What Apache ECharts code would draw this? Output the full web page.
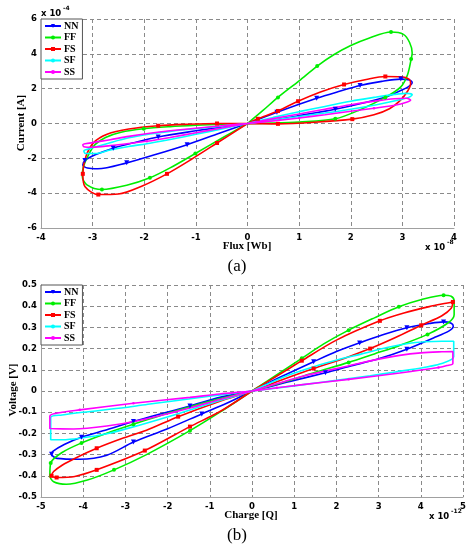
<!DOCTYPE html>
<html>
<head>
<meta charset="utf-8">
<script src="https://cdn.jsdelivr.net/npm/echarts@6/dist/echarts.min.js"></script>
<style>
html,body{margin:0;padding:0;background:#fff;}
#chart{width:474px;height:550px;}
</style>
</head>
<body>
<div id="chart"></div>
<script>
// ---------- Data ----------
const seriesNames = ['NN', 'FF', 'FS', 'SF', 'SS'];

// Tick values
const fluxTicks = [-4, -3, -2, -1, 0, 1, 2, 3, 4];          // x 1e-8 Wb
const currentTicks = [-6, -4, -2, 0, 2, 4, 6];              // x 1e-4 A
const chargeTicks = [-5, -4, -3, -2, -1, 0, 1, 2, 3, 4, 5]; // x 1e-12 Q
const voltageTicks = [-0.5, -0.4, -0.3, -0.2, -0.1, 0, 0.1, 0.2, 0.3, 0.4, 0.5];

// (a) Flux [1e-8 Wb] vs Current [1e-4 A]
const nnFluxCurrent = [[0,0],[0.57,0.65],[1.34,1.45],[1.75,1.82],[2.18,2.18],[2.6,2.42],[2.97,2.55],[3.14,2.5],[3.19,2.35],[3.12,2.12],[2.95,1.87],[2.71,1.55],[2.2,1.15],[1.7,0.82],[1.0,0.45],[0.5,0.2],[0,0],[-0.5,-0.2],[-1.0,-0.42],[-1.73,-0.77],[-2.2,-1.1],[-2.6,-1.42],[-2.95,-1.8],[-3.15,-2.13],[-3.19,-2.38],[-3.1,-2.56],[-2.9,-2.6],[-2.34,-2.26],[-1.8,-1.8],[-1.17,-1.22],[-0.6,-0.62],[0,0]];
const nnMarksA = [1,2,4,6,13,19,21,23,27,29];

const ffFluxCurrent = [[0,0],[0.3,0.75],[0.59,1.5],[1.0,2.45],[1.35,3.3],[1.67,3.95],[2.0,4.48],[2.35,4.9],[2.78,5.25],[3.02,5.12],[3.14,4.65],[3.19,4.05],[3.17,3.7],[3.1,2.8],[2.97,2.1],[2.67,1.5],[2.15,0.75],[1.7,0.27],[1.0,0.08],[0.5,0.02],[0,0],[-0.5,-0.04],[-1.0,-0.1],[-1.5,-0.18],[-2.01,-0.3],[-2.45,-0.5],[-2.75,-0.8],[-2.95,-1.2],[-3.08,-1.8],[-3.18,-2.5],[-3.2,-3.05],[-3.11,-3.52],[-2.82,-3.79],[-2.34,-3.55],[-1.89,-3.12],[-1.5,-2.55],[-1.01,-1.72],[-0.5,-0.85],[0,0]];
const ffMarksA = [2,4,8,12,15,17,24,32,34,36];

const fsFluxCurrent = [[0,0],[0.2,0.27],[0.59,0.72],[0.98,1.28],[1.4,1.8],[1.87,2.24],[2.3,2.53],[2.67,2.7],[2.97,2.68],[3.13,2.55],[3.16,2.3],[3.1,1.85],[2.95,1.3],[2.75,0.85],[2.45,0.5],[2.03,0.25],[1.3,0.07],[0.59,-0.02],[0,0],[-0.59,0.0],[-1.2,-0.05],[-1.73,-0.13],[-2.3,-0.32],[-2.72,-0.62],[-2.98,-1.1],[-3.13,-1.9],[-3.19,-2.89],[-3.15,-3.62],[-2.89,-4.08],[-2.5,-4.05],[-2.05,-3.6],[-1.56,-2.89],[-1.1,-2.08],[-0.59,-1.12],[0,0]];
const fsMarksA = [1,2,3,5,7,15,17,19,21,26,28,31,33];

const sfFluxCurrent = [[0,0],[0.5,0.35],[1.0,0.68],[1.5,0.98],[2.0,1.28],[2.5,1.52],[2.85,1.67],[3.08,1.73],[3.19,1.66],[3.12,1.5],[2.95,1.36],[2.5,1.08],[2.0,0.82],[1.5,0.6],[1.0,0.4],[0.5,0.2],[0,0],[-0.5,-0.15],[-1.0,-0.3],[-1.5,-0.45],[-1.89,-0.6],[-2.3,-0.82],[-2.66,-1.1],[-2.98,-1.38],[-3.17,-1.58],[-3.14,-1.72],[-2.95,-1.72],[-2.66,-1.52],[-2.3,-1.32],[-1.89,-1.13],[-1.4,-0.86],[-1.0,-0.62],[-0.5,-0.31],[0,0]];
const sfMarksA = [];

const ssFluxCurrent = [[0,0],[0.5,0.28],[1.0,0.55],[1.5,0.82],[2.0,1.08],[2.5,1.3],[2.85,1.42],[3.08,1.45],[3.16,1.35],[3.08,1.22],[2.85,1.05],[2.45,0.88],[2.0,0.7],[1.5,0.5],[1.0,0.32],[0.5,0.15],[0,0],[-0.5,-0.13],[-1.0,-0.27],[-1.5,-0.42],[-1.89,-0.56],[-2.3,-0.74],[-2.66,-0.93],[-3.0,-1.1],[-3.19,-1.22],[-3.17,-1.33],[-3.0,-1.36],[-2.66,-1.27],[-2.3,-1.15],[-1.95,-1.02],[-1.5,-0.8],[-1.0,-0.53],[-0.5,-0.26],[0,0]];
const ssMarksA = [11,14,29];

// (b) Charge [1e-12 Q] vs Voltage [V]
const nnChargeVoltage = [[0,0],[0.7,0.068],[1.46,0.138],[2.0,0.186],[2.55,0.227],[3.1,0.265],[3.67,0.298],[4.2,0.318],[4.54,0.326],[4.72,0.32],[4.77,0.305],[4.68,0.285],[4.3,0.25],[3.67,0.197],[3.0,0.152],[2.32,0.117],[1.74,0.086],[0.9,0.045],[0,0],[-0.76,-0.03],[-1.47,-0.071],[-2.2,-0.11],[-2.81,-0.144],[-3.44,-0.183],[-4.04,-0.218],[-4.45,-0.252],[-4.72,-0.285],[-4.75,-0.298],[-4.62,-0.318],[-4.08,-0.322],[-3.44,-0.303],[-2.81,-0.241],[-2.0,-0.178],[-1.19,-0.108],[-0.6,-0.058],[0,0]];
const nnMarksB = [2,4,6,8,13,16,20,22,24,27,31,33];

const ffChargeVoltage = [[0,0],[0.6,0.078],[1.18,0.154],[1.7,0.222],[2.29,0.287],[2.9,0.345],[3.48,0.397],[4.0,0.43],[4.54,0.452],[4.72,0.447],[4.79,0.425],[4.79,0.36],[4.65,0.322],[4.16,0.267],[3.5,0.215],[2.9,0.175],[2.29,0.135],[1.5,0.088],[0.8,0.045],[0,0],[-0.76,-0.036],[-1.86,-0.097],[-2.81,-0.157],[-3.44,-0.199],[-4.04,-0.245],[-4.5,-0.29],[-4.77,-0.34],[-4.79,-0.4],[-4.7,-0.428],[-4.4,-0.44],[-3.9,-0.42],[-3.27,-0.372],[-2.5,-0.3],[-1.47,-0.187],[-0.76,-0.1],[0,0]];
const ffMarksB = [2,4,6,8,13,16,22,24,26,31,33];

const fsChargeVoltage = [[0,0],[0.6,0.072],[1.18,0.143],[2.0,0.24],[3.03,0.331],[3.6,0.368],[4.2,0.398],[4.6,0.414],[4.76,0.42],[4.72,0.39],[4.5,0.355],[4.01,0.31],[3.4,0.252],[2.8,0.2],[2.2,0.155],[1.46,0.106],[0.7,0.052],[0,0],[-0.76,-0.048],[-1.75,-0.121],[-2.5,-0.185],[-3.05,-0.222],[-3.68,-0.27],[-4.2,-0.318],[-4.5,-0.35],[-4.7,-0.38],[-4.75,-0.4],[-4.63,-0.408],[-4.2,-0.403],[-3.68,-0.372],[-2.54,-0.281],[-1.47,-0.168],[-0.76,-0.097],[0,0]];
const fsMarksB = [2,4,8,11,13,15,19,22,26,27,29,30,31];

const sfChargeVoltage = [[0,0],[0.8,0.07],[1.5,0.117],[2.01,0.146],[2.6,0.175],[3.2,0.205],[3.7,0.224],[4.1,0.232],[4.5,0.235],[4.78,0.235],[4.78,0.161],[4.45,0.127],[4.07,0.111],[3.4,0.09],[2.8,0.072],[2.0,0.05],[1.22,0.03],[0,0],[-0.7,-0.017],[-1.5,-0.038],[-2.42,-0.061],[-3.0,-0.078],[-4.0,-0.1],[-4.5,-0.113],[-4.77,-0.125],[-4.77,-0.23],[-4.5,-0.23],[-4.08,-0.223],[-3.44,-0.202],[-2.65,-0.16],[-1.71,-0.105],[-0.76,-0.045],[0,0]];
const sfMarksB = [];

const ssChargeVoltage = [[0,0],[0.6,0.035],[1.2,0.07],[2.32,0.12],[2.8,0.142],[3.5,0.168],[4.0,0.18],[4.5,0.185],[4.76,0.186],[4.76,0.13],[4.62,0.12],[4.42,0.111],[3.5,0.085],[2.29,0.055],[1.2,0.03],[0.59,0.015],[0,0],[-0.76,-0.014],[-1.47,-0.03],[-2.81,-0.058],[-4.08,-0.089],[-4.5,-0.1],[-4.79,-0.118],[-4.79,-0.178],[-4.23,-0.179],[-3.44,-0.165],[-2.65,-0.138],[-1.47,-0.08],[-0.76,-0.04],[0,0]];
const ssMarksB = [11,13,15,19,20];

// ---------- Styles ----------
const colors = {NN:'#0000ff', FF:'#00ee00', FS:'#ff0000', SF:'#00ffff', SS:'#ff00ff'};
const symbols = {
  NN:{symbol:'triangle', symbolRotate:180, symbolSize:5},
  FF:{symbol:'circle', symbolRotate:0, symbolSize:4},
  FS:{symbol:'rect', symbolRotate:0, symbolSize:4},
  SF:{symbol:'circle', symbolRotate:0, symbolSize:2},
  SS:{symbol:'circle', symbolRotate:0, symbolSize:2.5}
};

function mk(points, marks){
  return points.map((p,i) => marks.indexOf(i) >= 0 ? {value:p} : {value:p, symbol:'none'});
}
function line(name, points, marks, gi){
  const c = colors[name];
  return Object.assign({
    name: name, type:'line', xAxisIndex:gi, yAxisIndex:gi,
    data: mk(points, marks), smooth:0.3, showSymbol:true,
    lineStyle:{width:1.6, color:c}, itemStyle:{color:c},
    emphasis:{disabled:true}, animation:false
  }, symbols[name]);
}

const tickFont = {color:'#000', fontWeight:'bold', fontSize:8.5, fontFamily:'DejaVu Sans'};
const splitStyle = {show:true, lineStyle:{type:[4,3], color:'#8a8a8a', width:1}};
const axLine = {show:true, onZero:false, lineStyle:{color:'#a0a0a0', width:1}};

function xAx(gi, ticks){
  return {type:'value', gridIndex:gi, min:ticks[0], max:ticks[ticks.length-1],
    interval:ticks[1]-ticks[0], axisLine:axLine, axisTick:{show:false},
    axisLabel:Object.assign({margin:5}, tickFont), splitLine:splitStyle};
}
function yAx(gi, ticks, fmt){
  return {type:'value', gridIndex:gi, min:ticks[0], max:ticks[ticks.length-1],
    interval:+(ticks[1]-ticks[0]).toFixed(6), axisLine:axLine, axisTick:{show:false},
    axisLabel:Object.assign({margin:4, formatter:fmt}, tickFont), splitLine:splitStyle};
}

const legendBase = {
  orient:'vertical', left:41, itemGap:1.5, itemWidth:16, itemHeight:5,
  padding:[2,4,2,3], borderColor:'#555', borderWidth:1, backgroundColor:'#fff',
  textStyle:{fontFamily:'Liberation Serif', fontWeight:'bold', fontSize:10, color:'#000', padding:[0,0,0,-2]},
  data:seriesNames, selectedMode:false
};

const titleFont = 'bold 11px "Liberation Serif"';
const sciFont = 'bold 8.5px "DejaVu Sans"';
const supFont = 'bold 6px "DejaVu Sans"';

const option = {
  animation:false,
  backgroundColor:'#fff',
  grid:[
    {left:41, top:19, width:413, height:209},
    {left:41, top:285, width:422, height:212}
  ],
  xAxis:[xAx(0, fluxTicks), xAx(1, chargeTicks)],
  yAxis:[yAx(0, currentTicks, v => String(v)), yAx(1, voltageTicks, v => String(+v.toFixed(1)))],
  legend:[
    Object.assign({top:19}, legendBase),
    Object.assign({top:285}, legendBase)
  ],
  series:[
    line('NN', nnFluxCurrent, nnMarksA, 0),
    line('FF', ffFluxCurrent, ffMarksA, 0),
    line('FS', fsFluxCurrent, fsMarksA, 0),
    line('SF', sfFluxCurrent, sfMarksA, 0),
    line('SS', ssFluxCurrent, ssMarksA, 0),
    line('NN', nnChargeVoltage, nnMarksB, 1),
    line('FF', ffChargeVoltage, ffMarksB, 1),
    line('FS', fsChargeVoltage, fsMarksB, 1),
    line('SF', sfChargeVoltage, sfMarksB, 1),
    line('SS', ssChargeVoltage, ssMarksB, 1)
  ],
  graphic:[
    {type:'text', x:41, y:14, style:{text:'x 10', font:sciFont, fill:'#000', verticalAlign:'middle'}},
    {type:'text', x:63, y:8, style:{text:'-4', font:supFont, fill:'#000', verticalAlign:'middle'}},
    {type:'text', x:425, y:248, style:{text:'x 10', font:sciFont, fill:'#000', verticalAlign:'middle'}},
    {type:'text', x:447, y:242, style:{text:'-8', font:supFont, fill:'#000', verticalAlign:'middle'}},
    {type:'text', x:429, y:517, style:{text:'x 10', font:sciFont, fill:'#000', verticalAlign:'middle'}},
    {type:'text', x:451, y:511, style:{text:'-12', font:supFont, fill:'#000', verticalAlign:'middle'}},
    {type:'text', x:21, y:123, rotation:Math.PI/2, style:{text:'Current [A]', font:titleFont, fill:'#000', align:'center', verticalAlign:'middle'}},
    {type:'text', x:247, y:246, style:{text:'Flux [Wb]', font:titleFont, fill:'#000', align:'center', verticalAlign:'middle'}},
    {type:'text', x:237, y:267, style:{text:'(a)', font:'17px "Liberation Serif"', fill:'#000', align:'center', verticalAlign:'middle'}},
    {type:'text', x:13, y:390, rotation:Math.PI/2, style:{text:'Voltage [V]', font:titleFont, fill:'#000', align:'center', verticalAlign:'middle'}},
    {type:'text', x:251, y:515, style:{text:'Charge [Q]', font:titleFont, fill:'#000', align:'center', verticalAlign:'middle'}},
    {type:'text', x:237, y:536, style:{text:'(b)', font:'17px "Liberation Serif"', fill:'#000', align:'center', verticalAlign:'middle'}}
  ]
};

const chart = echarts.init(document.getElementById('chart'), null, {renderer:'canvas'});
chart.setOption(option);
</script>
</body>
</html>
